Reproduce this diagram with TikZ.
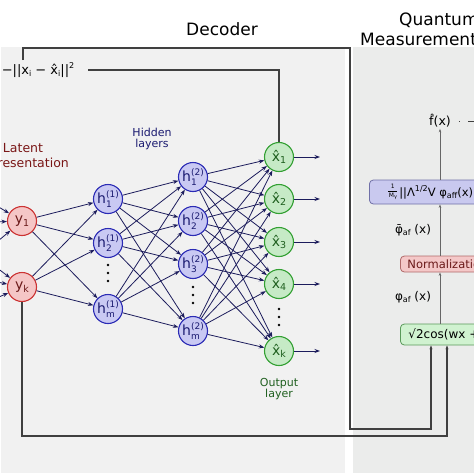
\documentclass[tikz,border=0pt]{standalone}
\usepackage{fontspec}
\setmainfont{DejaVu Sans}
\usetikzlibrary{arrows.meta,calc}
\definecolor{leftpanel}{HTML}{F1F1F1}
\definecolor{rightpanel}{HTML}{EBECEB}
\definecolor{latfill}{HTML}{F5C6C6}
\definecolor{latdraw}{HTML}{CC3333}
\definecolor{lattext}{HTML}{6B1A1A}
\definecolor{hidfill}{HTML}{C9C9F3}
\definecolor{hiddraw}{HTML}{2B2BB5}
\definecolor{hidtext}{HTML}{1A1A70}
\definecolor{outfill}{HTML}{C6EAC6}
\definecolor{outdraw}{HTML}{33A033}
\definecolor{outtext}{HTML}{1F5F1F}
\definecolor{navy}{HTML}{1C1C5C}
\definecolor{linegray}{HTML}{404040}
\definecolor{measfill}{HTML}{C9C9EF}
\definecolor{measdraw}{HTML}{7070A8}
\definecolor{normfill}{HTML}{F4C8C8}
\definecolor{normdraw}{HTML}{B06A6A}
\definecolor{cosfill}{HTML}{D0F2D0}
\definecolor{cosdraw}{HTML}{5A9A5A}
\newcommand\mysub[1]{\raisebox{-0.35ex}{\fontsize{8}{8}\selectfont #1}}
\newcommand\nodesub[1]{\raisebox{-0.35ex}{\fontsize{9.5}{9.5}\selectfont #1}}
\newcommand\mysupsub[2]{\makebox[0pt][l]{\raisebox{-0.5ex}{\fontsize{9}{9}\selectfont #2}}\raisebox{0.75ex}{\fontsize{9}{9}\selectfont #1}}
\newcommand\mysup[1]{\raisebox{0.8ex}{\fontsize{8}{8}\selectfont #1}}
\tikzset{
  neuron/.style={circle, line width=1.1pt, minimum size=29pt, inner sep=0pt, font=\fontsize{14}{14}\selectfont},
  lat/.style={neuron, draw=latdraw, fill=latfill, text=lattext},
  hid/.style={neuron, draw=hiddraw, fill=hidfill, text=hidtext},
  outn/.style={neuron, draw=outdraw, fill=outfill, text=outtext},
  net/.style={draw=navy, line width=0.8pt, -{Stealth[length=5.5pt,width=4pt]}},
  conn/.style={draw=linegray, line width=1.1pt},
  connarrow/.style={conn, -{Stealth[length=4pt,width=3pt]}},
  flowline/.style={draw=gray!80!black, line width=0.6pt, -{Stealth[length=3.5pt,width=2.5pt]}},
  dotmark/.style={circle, fill=black, inner sep=0pt, minimum size=2.8pt},
  title/.style={font=\fontsize{17}{20}\selectfont, text=black, inner sep=0pt},
  boxlabel/.style={inner sep=0pt, font=\fontsize{12}{12}\selectfont},
  panelbox/.style={rounded corners=4pt, line width=0.8pt, minimum height=#1, anchor=west},
}
\begin{document}
\begin{tikzpicture}[x=1pt,y=-1pt]
\useasboundingbox (0,0) rectangle (474,474);
\clip (0,0) rectangle (474,474);
\fill[white] (0,0) rectangle (474,474);
% panels
\fill[leftpanel] (1,47) rectangle (345,473);
\fill[rightpanel] (353,47) rectangle (490,473);
% titles
\node[title] (dec) at (222,29) {Decoder};
\node[title, anchor=base west] (qt1) at (399,25) {Quantum};
\node[title, anchor=base west] (qt2) at (360,45) {Measurement};
% labels
\node[align=center, text=lattext!90!red, font=\fontsize{12.5}{15}\selectfont, inner sep=0pt] (latlab) at (23,157) {Latent\\representation};
\node[align=center, text=hidtext, font=\fontsize{11}{11.5}\selectfont, inner sep=0pt] (hidlab) at (152,139) {Hidden\\layers};
\node[align=center, text=outtext, font=\fontsize{11}{11.5}\selectfont, inner sep=0pt] (outlab) at (279,389) {Output\\layer};
% loss
\node[inner sep=0pt, font=\fontsize{13}{13}\selectfont] (loss) at (38,70) {−||x\mysub{i} − \^{x}\mysub{i}||\mysup{2}};
% nodes
\node[lat] (y1) at (22,221) {y\nodesub{1}};
\node[lat] (yk) at (22,287) {y\nodesub{k}};
\node[hid] (h11) at (108,199) {h\mysupsub{(1)}{1}};
\node[hid] (h12) at (108,243) {h\mysupsub{(1)}{2}};
\node[hid] (h1m) at (108,309) {h\mysupsub{(1)}{m}};
\node[hid] (h21) at (193,177) {h\mysupsub{(2)}{1}};
\node[hid] (h22) at (193,221) {h\mysupsub{(2)}{2}};
\node[hid] (h23) at (193,264) {h\mysupsub{(2)}{3}};
\node[hid] (h2m) at (193,331) {h\mysupsub{(2)}{m}};
\node[outn] (x1) at (279,157) {\^{x}\nodesub{1}};
\node[outn] (x2) at (279,199) {\^{x}\nodesub{2}};
\node[outn] (x3) at (279,242) {\^{x}\nodesub{3}};
\node[outn] (x4) at (279,284) {\^{x}\nodesub{4}};
\node[outn] (xk) at (279,351) {\^{x}\nodesub{k}};
% dots
\foreach \yy [count=\i] in {265,273,281} \node[dotmark] (da\i) at (108,\yy) {};
\foreach \yy [count=\i] in {287,295,303} \node[dotmark] (db\i) at (193,\yy) {};
\foreach \yy [count=\i] in {309,317,325} \node[dotmark] (dc\i) at (279,\yy) {};
% incoming arrows from the encoder
\coordinate (ia) at (-8,203);
\coordinate (ib) at (-8,222);
\coordinate (ic) at (-8,246);
\coordinate (id) at (-8,264);
\coordinate (ie) at (-8,281);
\coordinate (if) at (-8,300);
\draw[net] (ia) -- (y1);
\draw[net] (ib) -- (y1);
\draw[net] (ic) -- (y1);
\draw[net] (id) -- (yk);
\draw[net] (ie) -- (yk);
\draw[net] (if) -- (yk);
% full connections
\foreach \a in {y1,yk} \foreach \b in {h11,h12,h1m} \draw[net] (\a) -- (\b);
\foreach \a in {h11,h12,h1m} \foreach \b in {h21,h22,h23,h2m} \draw[net] (\a) -- (\b);
\foreach \a in {h21,h22,h23,h2m} \foreach \b in {x1,x2,x3,x4,xk} \draw[net] (\a) -- (\b);
% outputs
\foreach \n in {x1,x2,x3,x4,xk} {
  \coordinate (o\n) at ($(\n.center)+(41,0)$);
  \draw[net] (\n) -- (o\n);
}
% right panel
\coordinate (flow) at (440,0);
\node[inner sep=1pt, font=\fontsize{12.5}{12.5}\selectfont] (fx) at (440,121) {\^{f}(x)};
\coordinate (fxdots) at (490,121);
\draw[linegray, line width=0.8pt, dash pattern=on 1.2pt off 8pt on 6pt off 4pt] ([xshift=7pt]fx.east) -- (fxdots);
\node[panelbox=24pt, draw=measdraw, fill=measfill, inner xsep=19pt, font=\fontsize{11.5}{11.5}\selectfont] (meas) at (369,192)
  {\raisebox{-0.2ex}{\shortstack{\fontsize{6}{6}\selectfont 1\\[-1pt]\rule{9pt}{0.4pt}\\[-1pt]\fontsize{6}{6}\selectfont M\mysub{\fontsize{5}{5}\selectfont γ}}}\,||Λ\mysup{1/2}V φ\mysub{aff}(x)||\mysup{2}};
\node[boxlabel] (phibar) at (413,230) {\={φ}\mysub{af} (x)};
\node[panelbox=16pt, draw=normdraw, fill=normfill, inner xsep=7pt, font=\fontsize{11.5}{11.5}\selectfont, text=lattext] (norm) at (400,264) {Normalization};
\node[boxlabel] (phi) at (413,297) {φ\mysub{af} (x)};
\node[panelbox=21pt, draw=cosdraw, fill=cosfill, inner xsep=8pt, font=\fontsize{12}{12}\selectfont] (cos) at (400,334.5) {√2cos(wx + b)};
\draw[flowline] (cos.north -| flow) -- (norm.south -| flow);
\draw[flowline] (norm.north -| flow) -- (meas.south -| flow);
\draw[flowline] (meas.north -| flow) -- (fx.south);
% connectors
\coordinate (lossup) at (23,60);
\coordinate (c1) at (350,48);
\coordinate (c2) at (431,429);
\coordinate (c3) at (447,436);
\draw[conn] (x1.north) |- ([xshift=14pt]loss.east);
\draw[connarrow] (lossup) |- (c1) |- (c2) -- (c2 |- cos.south);
\draw[connarrow] (yk.south) |- (c3) -- (c3 |- cos.south);
\end{tikzpicture}
\end{document}
